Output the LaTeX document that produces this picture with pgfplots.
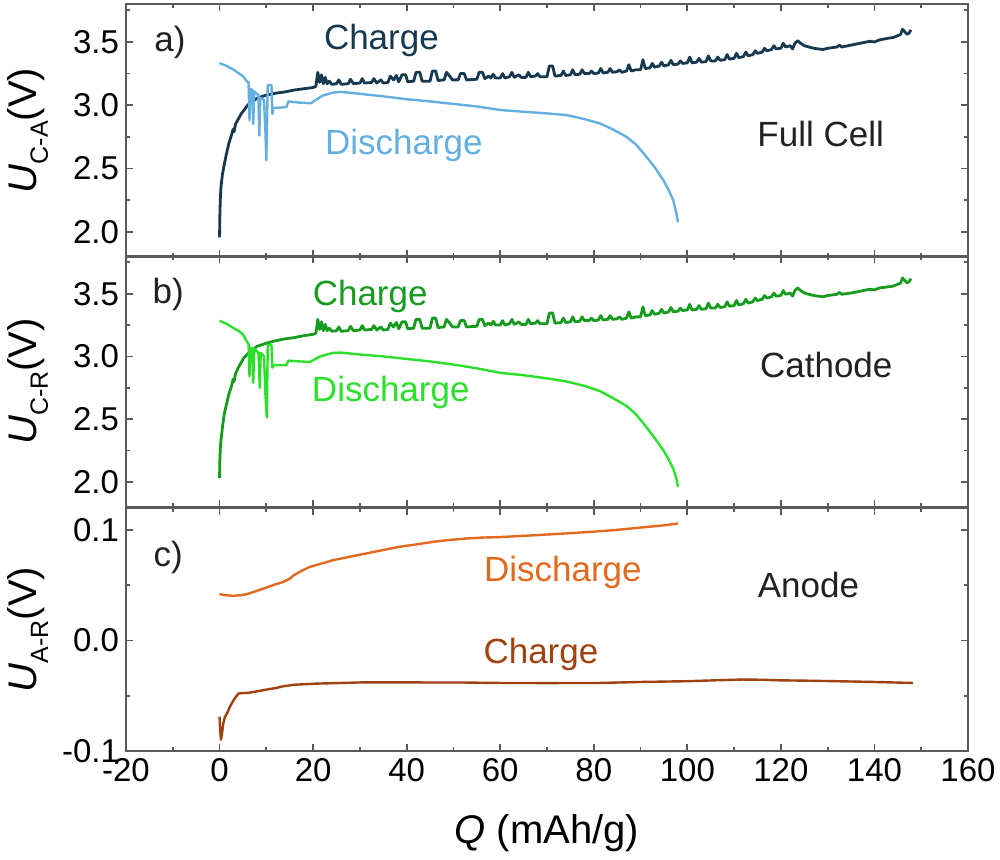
\documentclass[border=0pt]{standalone}
\usepackage{pgfplots}
\pgfplotsset{compat=1.18}
\usepackage{fontspec}
\setmainfont{Liberation Sans}
\definecolor{navy}{HTML}{16394F}
\definecolor{lblue}{HTML}{64AFE1}
\definecolor{dgreen}{HTML}{179B1F}
\definecolor{bgreen}{HTML}{2BE02B}
\definecolor{orng}{HTML}{E2691E}
\definecolor{brwn}{HTML}{A0420F}
\definecolor{txt}{HTML}{222222}
\definecolor{axgray}{HTML}{5A5A5A}
\newcommand{\annfont}{\fontsize{17.5}{20}\selectfont}
\pgfplotsset{
  panel/.style={
    scale only axis, width=421pt, xmin=-20, xmax=160,
    xtick={-20,0,...,160}, minor xtick={-10,10,...,150},
    tick align=inside, xtick pos=both, ytick pos=both,
    major tick length=3.5pt, minor tick length=2pt,
    axis line style={axgray, line width=0.9pt},
    every tick/.style={axgray, line width=0.9pt},
    tick label style={font=\fontsize{16.5}{18}\selectfont, text=black},
    every axis y label/.style={at={(axis description cs:-0.1164,0.5)}, rotate=90, anchor=center, font=\fontsize{20}{22}\selectfont},
    every axis x label/.style={at={(axis description cs:0.5,-0.379)}, anchor=base, font=\fontsize{20}{22}\selectfont},
    clip=true,
  },
}
\newcommand{\sub}[1]{\raisebox{-0.28em}{\fontsize{12.5}{14}\selectfont #1}}
\begin{document}
\begin{tikzpicture}
\useasboundingbox (0,0) rectangle (500pt,-430pt);
% ---------------- panel a
\begin{axis}[panel, at={(63pt,-128.5pt)}, anchor=south west, height=126.5pt,
  ymin=1.8, ymax=3.8, ytick={2,2.5,3,3.5}, yticklabels={2.0,2.5,3.0,3.5},
  minor ytick={2.25,2.75,3.25,3.75}, xticklabels={},
  ylabel={\textit{U}\sub{C-A}(V)}]
\addplot[navy, line width=1.4pt, line join=round] coordinates {
(0,1.955) (0.05,2.10) (0.15,2.25) (0.3,2.35) (0.6,2.45) (1.0,2.53) (1.5,2.62) (2.0,2.70) (2.6,2.77) (2.9,2.81) (3.1,2.79) (3.4,2.85) (4.0,2.89) (4.6,2.93) (5.2,2.96) (6.0,3.00) (7.0,3.03) (8.0,3.055) (10.0,3.08) (12.0,3.095) (14.0,3.105) (16.0,3.12) (18.0,3.13) (20.0,3.14)
(20.6,3.15) (21.0,3.26) (21.4,3.18) (21.8,3.24) (22.2,3.17) (22.6,3.22) (23.0,3.17) (23.5,3.19) (24.0,3.165) (25.0,3.17) (25.5,3.20) (26.0,3.165) (27.5,3.17) (28.0,3.205) (28.6,3.17) (30.0,3.175) (30.5,3.21) (31.0,3.175) (32.5,3.18) (33.0,3.21) (33.6,3.175) (34.5,3.20) (35.0,3.175) (36.0,3.18) (36.5,3.23) (37.2,3.20) (37.8,3.235) (38.3,3.185) (39.0,3.24) (39.8,3.24) (40.2,3.185)
(41.5,3.19) (42.0,3.26) (42.8,3.26) (43.3,3.19) (45.0,3.19) (45.5,3.27) (46.2,3.27) (46.7,3.195) (48.0,3.20) (48.5,3.26) (49.2,3.23) (49.8,3.20) (51.0,3.20) (51.5,3.25) (52.3,3.25) (52.8,3.20) (55.0,3.205) (55.5,3.26) (56.2,3.26) (56.7,3.21) (57.5,3.23) (58.0,3.215) (58.5,3.245) (59.0,3.215) (60.0,3.215) (60.5,3.25) (61.0,3.215)
(62.0,3.225) (62.5,3.26) (63.0,3.22) (64.0,3.24) (64.5,3.22) (65.5,3.22) (66.0,3.26) (66.5,3.225) (67.5,3.23) (68.0,3.25) (68.5,3.225) (70.0,3.225) (70.5,3.31) (71.2,3.31) (71.7,3.23) (73.0,3.235) (73.5,3.27) (74.0,3.235) (75.0,3.24) (75.5,3.28) (76.0,3.24) (77.0,3.245) (77.5,3.28) (78.0,3.25) (79.0,3.25) (79.5,3.27) (80.0,3.25)
(81.0,3.255) (81.5,3.29) (82.0,3.255) (83.0,3.26) (83.5,3.29) (84.0,3.26) (85.0,3.265) (85.5,3.28) (86.0,3.26) (87.0,3.27) (87.5,3.32) (88.0,3.27) (89.0,3.28) (90.0,3.28) (90.5,3.36) (91.0,3.29) (92.0,3.295) (92.5,3.33) (93.0,3.30) (94.0,3.31) (94.5,3.34) (95.0,3.31) (96.0,3.32) (96.5,3.355) (97.0,3.32) (98.0,3.325) (98.5,3.35) (99.0,3.33)
(100.0,3.335) (100.5,3.38) (101.0,3.335) (102.0,3.34) (102.5,3.37) (103.0,3.34) (104.0,3.345) (104.5,3.39) (105.0,3.35) (106.0,3.35) (106.5,3.38) (107.0,3.355) (108.0,3.36) (108.5,3.40) (109.0,3.365) (110.0,3.37) (110.5,3.41) (111.0,3.375) (112.0,3.385) (112.5,3.42) (113.0,3.39) (114.0,3.40) (114.5,3.43) (115.0,3.41)
(116.0,3.42) (116.5,3.45) (117.0,3.43) (118.0,3.44) (118.5,3.47) (119.0,3.445) (120.0,3.45) (120.5,3.49) (121.0,3.46) (122.0,3.47) (122.5,3.445) (123.0,3.49) (123.6,3.51) (124.2,3.49) (125.0,3.47) (126.0,3.46) (127.0,3.45) (128.0,3.445) (129.0,3.44) (130.0,3.45) (131.0,3.455) (132.0,3.46) (132.5,3.475) (133.0,3.46)
(135.0,3.475) (137.0,3.49) (139.0,3.505) (140.0,3.50) (141.0,3.515) (143.0,3.53) (144.0,3.535) (145.0,3.55) (145.6,3.56) (146.0,3.60) (146.5,3.58) (147.0,3.56) (147.4,3.57) (147.8,3.595)
};
\addplot[lblue, line width=1.2pt, line join=round] coordinates {
(0,3.333) (1.5,3.31) (3.0,3.28) (4.2,3.25) (5.1,3.227) (5.8,3.19) (6.2,3.18) (6.4,2.88) (6.6,3.13) (7.0,3.12) (7.2,2.85) (7.4,3.11) (8.0,3.09) (8.3,3.08) (8.5,2.76) (8.7,3.06) (9.5,3.04) (9.8,2.80) (10.0,2.564) (10.3,3.16) (11.1,3.16) (11.3,2.93) (11.5,2.98) (12.4,2.98) (14.3,2.985) (14.7,3.03) (17.2,3.02) (19.5,3.015) (20.5,3.04) (22.0,3.075) (24.3,3.10) (26.0,3.105) (30.0,3.09) (35.0,3.07) (40.0,3.047) (45.0,3.03) (50.0,3.01) (55.0,2.99) (60.0,2.962) (65.0,2.948) (70.0,2.935) (74.2,2.922) (78.0,2.89) (81.3,2.856) (84.0,2.81) (87.0,2.75) (89.0,2.69) (91.3,2.59) (93.0,2.51) (94.9,2.405) (96.0,2.33) (97.0,2.246) (97.7,2.14) (98.0,2.074)
};
\node[anchor=center, text=txt, font=\annfont] at (axis cs:-10.6,3.5) {a)};
\node[anchor=base, text=navy, font=\annfont] at (axis cs:34.6,3.439) {Charge};
\node[anchor=base, text=lblue, font=\annfont] at (axis cs:39.4,2.612) {Discharge};
\node[anchor=base, text=txt, font=\annfont] at (axis cs:128.5,2.67) {Full Cell};
\end{axis}
% ---------------- panel b
\begin{axis}[panel, at={(63pt,-253.5pt)}, anchor=south west, height=125.5pt,
  ymin=1.8, ymax=3.8, ytick={2,2.5,3,3.5}, yticklabels={2.0,2.5,3.0,3.5},
  minor ytick={2.25,2.75,3.25,3.75}, xticklabels={},
  ylabel={\textit{U}\sub{C-R}(V)}]
\addplot[dgreen, line width=1.4pt, line join=round] coordinates {
(0,2.03) (0.05,2.15) (0.15,2.26) (0.3,2.33) (0.6,2.43) (1.0,2.54) (1.5,2.62) (2.0,2.70) (2.6,2.77) (2.9,2.82) (3.1,2.80) (3.4,2.86) (4.0,2.91) (4.6,2.95) (5.2,2.99) (6.0,3.02) (7.0,3.05) (8.0,3.08) (10.0,3.105) (12.0,3.125) (14.0,3.14) (16.0,3.15) (18.0,3.165) (20.0,3.176)
(20.6,3.185) (21.0,3.295) (21.4,3.215) (21.8,3.275) (22.2,3.205) (22.6,3.255) (23.0,3.205) (23.5,3.225) (24.0,3.2) (25.0,3.205) (25.5,3.235) (26.0,3.2) (27.5,3.205) (28.0,3.24) (28.6,3.205) (30.0,3.21) (30.5,3.245) (31.0,3.21) (32.5,3.215) (33.0,3.245) (33.6,3.21) (34.5,3.235) (35.0,3.21) (36.0,3.215) (36.5,3.265) (37.2,3.235) (37.8,3.27) (38.3,3.22) (39.0,3.275) (39.8,3.275) (40.2,3.22)
(41.5,3.225) (42.0,3.295) (42.8,3.295) (43.3,3.225) (45.0,3.225) (45.5,3.305) (46.2,3.305) (46.7,3.23) (48.0,3.235) (48.5,3.295) (49.2,3.265) (49.8,3.235) (51.0,3.235) (51.5,3.285) (52.3,3.285) (52.8,3.235) (55.0,3.24) (55.5,3.295) (56.2,3.295) (56.7,3.245) (57.5,3.265) (58.0,3.25) (58.5,3.28) (59.0,3.25) (60.0,3.25) (60.5,3.285) (61.0,3.25)
(62.0,3.26) (62.5,3.295) (63.0,3.255) (64.0,3.275) (64.5,3.255) (65.5,3.255) (66.0,3.295) (66.5,3.26) (67.5,3.265) (68.0,3.285) (68.5,3.26) (70.0,3.26) (70.5,3.345) (71.2,3.345) (71.7,3.265) (73.0,3.27) (73.5,3.305) (74.0,3.27) (75.0,3.275) (75.5,3.315) (76.0,3.275) (77.0,3.28) (77.5,3.315) (78.0,3.285) (79.0,3.285) (79.5,3.305) (80.0,3.285)
(81.0,3.29) (81.5,3.325) (82.0,3.29) (83.0,3.295) (83.5,3.325) (84.0,3.295) (85.0,3.3) (85.5,3.315) (86.0,3.295) (87.0,3.305) (87.5,3.355) (88.0,3.305) (89.0,3.315) (90.0,3.315) (90.5,3.395) (91.0,3.325) (92.0,3.33) (92.5,3.365) (93.0,3.335) (94.0,3.345) (94.5,3.375) (95.0,3.345) (96.0,3.355) (96.5,3.39) (97.0,3.355) (98.0,3.36) (98.5,3.385) (99.0,3.365)
(100.0,3.37) (100.5,3.415) (101.0,3.37) (102.0,3.375) (102.5,3.405) (103.0,3.375) (104.0,3.38) (104.5,3.425) (105.0,3.385) (106.0,3.385) (106.5,3.415) (107.0,3.39) (108.0,3.395) (108.5,3.435) (109.0,3.4) (110.0,3.405) (110.5,3.445) (111.0,3.41) (112.0,3.42) (112.5,3.455) (113.0,3.425) (114.0,3.435) (114.5,3.465) (115.0,3.445)
(116.0,3.455) (116.5,3.485) (117.0,3.465) (118.0,3.475) (118.5,3.505) (119.0,3.48) (120.0,3.485) (120.5,3.525) (121.0,3.495) (122.0,3.505) (122.5,3.48) (123.0,3.525) (123.6,3.545) (124.2,3.525) (125.0,3.505) (126.0,3.495) (127.0,3.485) (128.0,3.48) (129.0,3.475) (130.0,3.485) (131.0,3.49) (132.0,3.495) (132.5,3.51) (133.0,3.495)
(135.0,3.505) (137.0,3.52) (139.0,3.535) (140.0,3.53) (141.0,3.545) (143.0,3.555) (144.0,3.56) (145.0,3.575) (145.6,3.585) (146.0,3.625) (146.5,3.605) (147.0,3.585) (147.4,3.595) (147.8,3.62)
};
\addplot[bgreen, line width=1.2pt, line join=round] coordinates {
(0,3.284) (1.5,3.26) (3.0,3.225) (4.2,3.20) (5.1,3.17) (5.8,3.12) (6.2,3.10) (6.4,2.84) (6.6,3.07) (7.0,3.06) (7.2,2.79) (7.4,3.06) (8.0,3.04) (8.3,3.03) (8.6,2.75) (8.8,3.03) (9.5,3.0) (9.8,2.70) (10.1,2.513) (10.3,3.09) (11.1,3.09) (11.3,2.91) (11.5,2.93) (14.3,2.93) (14.7,2.966) (17.2,2.96) (19.3,2.955) (20.5,2.98) (21.5,3.00) (24.3,3.029) (26.0,3.03) (30.0,3.015) (35.0,3.0) (40.0,2.98) (45.0,2.96) (50.0,2.935) (55.0,2.905) (60.0,2.869) (65.0,2.85) (70.0,2.825) (74.2,2.80) (78.0,2.765) (81.3,2.724) (84.0,2.67) (87.0,2.605) (89.0,2.54) (91.3,2.434) (93.0,2.35) (94.9,2.25) (96.0,2.18) (97.0,2.105) (97.7,2.02) (98.0,1.96)
};
\node[anchor=center, text=txt, font=\annfont] at (axis cs:-11,3.49) {b)};
\node[anchor=base, text=dgreen, font=\annfont] at (axis cs:32.2,3.408) {Charge};
\node[anchor=base, text=bgreen, font=\annfont] at (axis cs:36.6,2.644) {Discharge};
\node[anchor=base, text=txt, font=\annfont] at (axis cs:129.7,2.834) {Cathode};
\end{axis}
% ---------------- panel c
\begin{axis}[panel, at={(63pt,-375.5pt)}, anchor=south west, height=121.5pt,
  ymin=-0.1, ymax=0.12, ytick={-0.1,0,0.1}, yticklabels={-0.1,0.0,0.1},
  minor ytick={-0.05,0.05},
  xticklabels={-20,0,20,40,60,80,100,120,140,160},
  ylabel={\textit{U}\sub{A-R}(V)}, xlabel={\textit{Q} (mAh/g)}]
\addplot[orng, line width=1.2pt, line join=round] coordinates {
(0,0.042) (1.5,0.041) (2.9,0.0405) (4.5,0.041) (5.8,0.042) (8,0.045) (10,0.048) (12,0.051) (13.6,0.053) (15,0.056) (15.8,0.059) (17.5,0.063) (19.3,0.0667) (22,0.070) (24.3,0.0728) (28,0.076) (31.4,0.0789) (35,0.082) (38.6,0.085) (42,0.087) (45.7,0.0894) (49,0.091) (52.8,0.0924) (56,0.0932) (60,0.0937) (65,0.0948) (70,0.096) (75,0.0972) (80,0.0986) (85,0.1002) (90,0.1023) (95,0.1043) (98,0.106)
};
\addplot[brwn, line width=1.2pt, line join=round] coordinates {
(0,-0.069) (0.15,-0.082) (0.3,-0.0897) (0.5,-0.085) (0.8,-0.075) (1.15,-0.069) (1.6,-0.066) (2.2,-0.060) (3.0,-0.054) (4.0,-0.048) (5.0,-0.0475) (6.1,-0.0474) (8,-0.046) (10,-0.0444) (12,-0.043) (13.6,-0.0414) (16,-0.040) (20.7,-0.039) (25,-0.0385) (31.4,-0.0378) (38,-0.0378) (45.7,-0.038) (52,-0.038) (60,-0.0384) (70,-0.0385) (81.3,-0.0384) (90,-0.0375) (100,-0.0368) (106,-0.036) (111.8,-0.0353) (116,-0.0355) (119.6,-0.036) (125,-0.0363) (131.7,-0.0368) (140,-0.0375) (148.2,-0.0384)
};
\node[anchor=center, text=txt, font=\annfont] at (axis cs:-11,0.075) {c)};
\node[anchor=base, text=orng, font=\annfont] at (axis cs:73.4,0.0532) {Discharge};
\node[anchor=base, text=brwn, font=\annfont] at (axis cs:68.7,-0.0208) {Charge};
\node[anchor=base, text=txt, font=\annfont] at (axis cs:125.9,0.039) {Anode};
\end{axis}
\end{tikzpicture}
\end{document}
